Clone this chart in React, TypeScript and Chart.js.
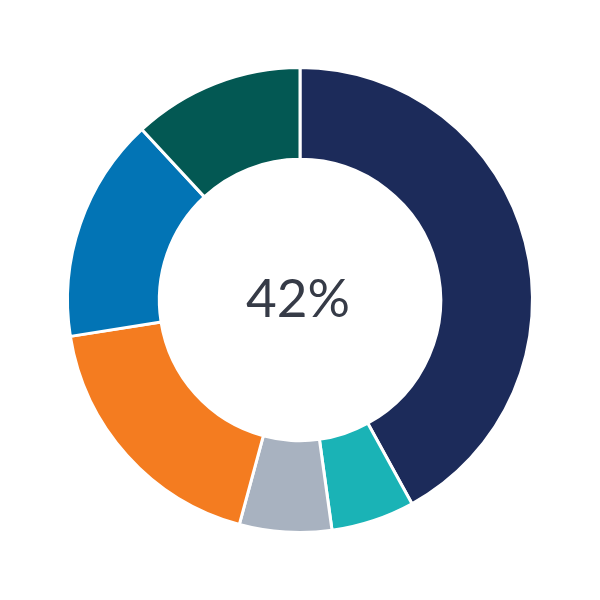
import React, { useEffect, useRef } from "react";
import { Chart, registerables } from "chart.js";

Chart.register(...registerables);

const categories = ["Segment A", "Segment B", "Segment C", "Segment D", "Segment E", "Segment F"];
const values = [42, 5.8, 6.4, 18.3, 15.6, 11.9];
const colors = ["#1c2b5a", "#1ab3b6", "#a8b2c0", "#f47c20", "#0274b5", "#035853"];
const centerLabel = "42%";

const centerText = {
  id: "centerText",
  afterDraw(chart: any) {
    const meta = chart.getDatasetMeta(0);
    const arc = meta.data[0];
    if (!arc) return;
    const { x, y } = arc;
    const ctx = chart.ctx;
    ctx.save();
    ctx.font = "400 53px Lato";
    ctx.fillStyle = "#363b47";
    ctx.textAlign = "center";
    ctx.textBaseline = "middle";
    ctx.fillText(centerLabel, x - 2, y);
    ctx.restore();
  },
};

export default function App() {
  const ref = useRef<HTMLCanvasElement>(null);
  useEffect(() => {
    if (!ref.current) return;
    const chart = new Chart(ref.current, {
      type: "doughnut",
      data: {
        labels: categories,
        datasets: [
          {
            data: values,
            backgroundColor: colors,
            borderColor: "#ffffff",
            borderWidth: 3,
          },
        ],
      },
      options: {
        animation: false,
        responsive: true,
        maintainAspectRatio: false,
        cutout: "60.5%",
        layout: { padding: 66 },
        plugins: { legend: { display: false }, tooltip: { enabled: false } },
      },
      plugins: [centerText],
    });
    return () => chart.destroy();
  }, []);
  return (
    <div style={{ position: "fixed", left: 0, top: 0, width: 600, height: 600, background: "#fff" }}>
      <canvas ref={ref} />
    </div>
  );
}
